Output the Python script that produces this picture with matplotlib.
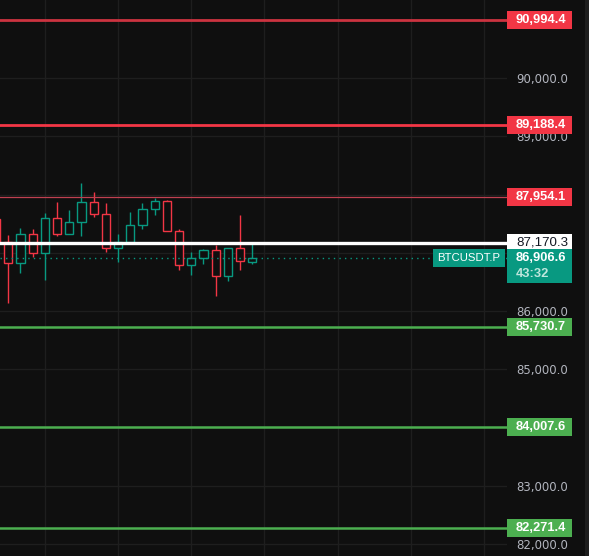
import numpy as np
import matplotlib
matplotlib.use('Agg')
import matplotlib.pyplot as plt
from matplotlib.patches import Rectangle
from matplotlib.transforms import blended_transform_factory
from matplotlib.ticker import FuncFormatter, MultipleLocator

# candles (index 0 is cut off at the left edge)
opens  = [87581, 87181, 86820, 87318, 86992, 87593, 87318, 87524, 87868, 87662, 87078,
          87181, 87473, 87748, 87885, 87370, 86786, 86906, 87043, 86597, 87078, 86847]
highs  = [87660, 87306, 87426, 87409, 87684, 87873, 87736, 88199, 88045, 87856, 87323,
          87701, 87856, 87942, 87908, 87404, 87014, 87066, 87134, 87078, 87650, 87169]
lows   = [87120, 86143, 86658, 86933, 86538, 87294, 87318, 87294, 87621, 87019, 86847,
          87181, 87414, 87655, 87370, 86710, 86624, 86813, 86263, 86521, 86710, 86813]
closes = [87160, 86820, 87318, 86992, 87593, 87318, 87524, 87868, 87662, 87078, 87181,
          87473, 87748, 87885, 87370, 86786, 86906, 87043, 86597, 87078, 86854, 86906.6]

resistance = [90994.4, 89188.4, 87954.1]
support = [85730.7, 84007.6, 82271.4]
level_white = 87170.3
last_price = 86906.6
countdown = "43:32"
symbol = "BTCUSDT.P"

BG = '#0f0f0f'
GRID = '#1e1e1e'
RED = '#f23645'
GREEN_C = '#089981'
GREEN_L = '#4caf50'
TAGFONT = 'Liberation Sans'

W, H = 589, 556
fig = plt.figure(figsize=(W/100, H/100), dpi=100, facecolor=BG)
ax = fig.add_axes([0, 0, 507/W, 1])
ax.set_facecolor(BG)
ymin, ymax = 81790.4, 91343.6
ax.set_ylim(ymin, ymax)
ax.set_xlim(0.32, 41.88)
px = (ymax - ymin) / H   # price units per pixel

# axis labels hidden behind a price tag are dropped, like the trading app does
tag_prices = resistance + support + [level_white, last_price]
def fmt(v, pos):
    for t in tag_prices:
        if abs(v - t) < 6*px or (t == last_price and -26*px < v - t < 10*px):
            return ''
    return f"{v:,.1f}"

# grid
ax.yaxis.set_major_locator(MultipleLocator(1000))
ax.set_xticks(np.arange(4, 42, 6))
ax.grid(True, color=GRID, lw=1.0, zorder=0)
ax.set_axisbelow(True)
for s in ax.spines.values():
    s.set_visible(False)
ax.tick_params(axis='x', length=0, labelbottom=False)
ax.yaxis.tick_right()
ax.tick_params(axis='y', length=0, pad=6.5, labelcolor='#b2b5be', labelsize=8.5)
ax.yaxis.set_major_formatter(FuncFormatter(fmt))

# candles
x = np.arange(len(opens))
o, h, l, c = map(np.array, (opens, highs, lows, closes))
cols = np.where(c >= o, GREEN_C, RED)
ax.vlines(x, l, h, colors=cols, lw=1.0, zorder=3)
ax.bar(x, np.abs(c - o), bottom=np.minimum(o, c), width=0.68,
       facecolor=BG, edgecolor=cols, linewidth=1.0, zorder=4)

# level lines
ax.axhline(resistance[0], color='#cc3340', lw=2.0, zorder=5)
ax.axhline(resistance[1], color=RED, lw=2.0, zorder=5)
ax.axhline(resistance[2], color='#c04050', lw=0.9, zorder=5)
for s in support:
    ax.axhline(s, color=GREEN_L, lw=1.8, zorder=5)
ax.axhline(level_white, color='white', lw=2.4, zorder=5)
ax.axhline(last_price, color=GREEN_C, lw=1.0, ls=(0, (1, 3)), zorder=5)

trans = blended_transform_factory(ax.transAxes, ax.transData)
bw = 65 / 507
tx = 1.0 + 9/507

def tag(price, text, fc, tc='white', weight='bold', size=9.3):
    ax.add_patch(Rectangle((1.0, price - 9*px), bw, 18*px, transform=trans,
                           facecolor=fc, edgecolor='none', clip_on=False, zorder=10))
    ax.text(tx, price, text, transform=trans, ha='left', va='center', family=TAGFONT,
            color=tc, fontsize=size, fontweight=weight, clip_on=False, zorder=11)

for r in resistance:
    tag(r, f"{r:,.1f}", RED)
for s in support:
    tag(s, f"{s:,.1f}", GREEN_L)
tag(level_white, f"{level_white:,.1f}", 'white', tc='#131722', weight='normal', size=9.6)

# current price tag with countdown
ax.add_patch(Rectangle((1.0, last_price - 25*px), bw, 34*px, transform=trans,
                       facecolor=GREEN_C, edgecolor='none', clip_on=False, zorder=10))
ax.text(tx, last_price, f"{last_price:,.1f}", transform=trans, ha='left', va='center',
        family=TAGFONT, color='white', fontsize=9.3, fontweight='bold', clip_on=False, zorder=11)
ax.text(tx, last_price - 16*px, countdown, transform=trans, ha='left', va='center',
        family=TAGFONT, color='#bfe6dd', fontsize=9.3, fontweight='bold', clip_on=False, zorder=11)

# symbol label
ax.add_patch(Rectangle((433/507, last_price - 9*px), 72/507, 18*px, transform=trans,
                       facecolor=GREEN_C, edgecolor='none', zorder=10))
ax.text(469/507, last_price, symbol, transform=trans, ha='center', va='center',
        family=TAGFONT, color='white', fontsize=8.2, zorder=11)

fig.patches.append(Rectangle((585/W, 0), 4/W, 1, transform=fig.transFigure,
                             facecolor='#1e1e1e', edgecolor='none'))

fig.savefig('out.png', dpi=100, facecolor=BG)
